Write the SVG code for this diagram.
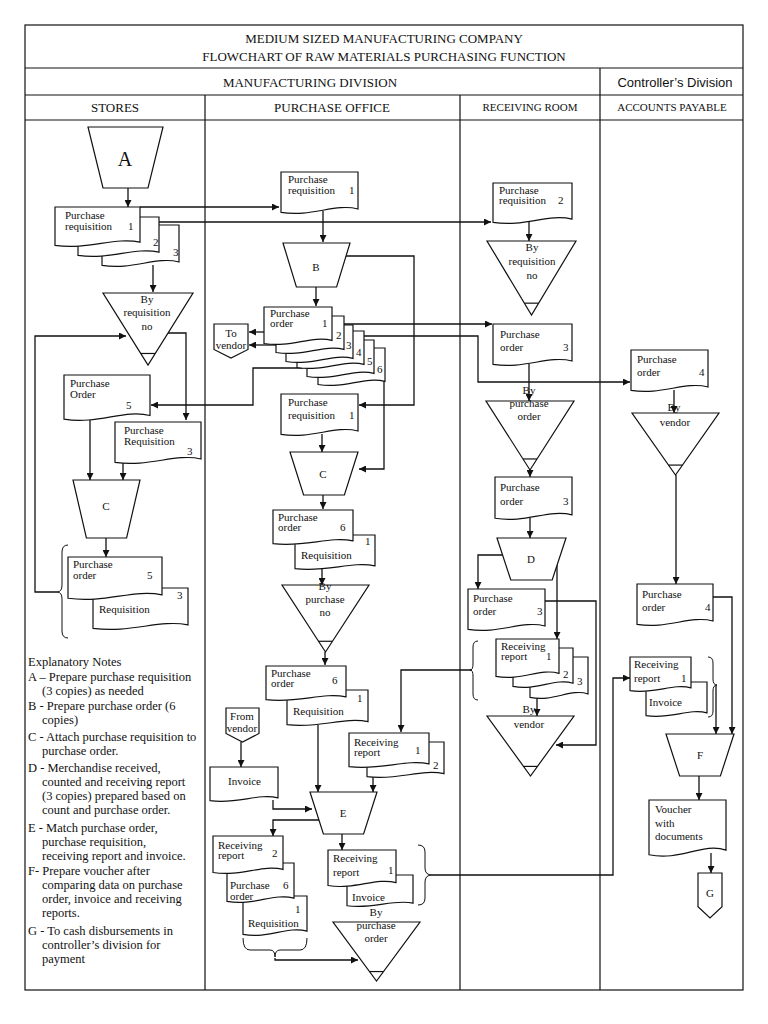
<svg xmlns="http://www.w3.org/2000/svg" xmlns:xlink="http://www.w3.org/1999/xlink" width="768" height="1024" viewBox="0 0 768 1024">
<style>
text{font-family:"Liberation Serif","Times New Roman",serif;font-size:11px;fill:#111}
.h{font-size:13px;text-anchor:middle}
.hs{font-size:11px;text-anchor:middle}
.c{text-anchor:middle}
.big{font-size:20px;text-anchor:middle}
.n{font-size:12.5px}
.s{fill:#fff;stroke:#111;stroke-width:1.2;vector-effect:non-scaling-stroke}
.grid{fill:none;stroke:#111;stroke-width:1.2}
.cn path{fill:none;stroke:#111;stroke-width:1.3}
.br{fill:none;stroke:#111;stroke-width:1}
</style>
<defs>
<path id="doc" class="s" d="M0,0 H1 V0.88 C0.7,0.74 0.4,1.08 0,0.96 Z"/>
<path id="trap" class="s" d="M0,0 H1 L0.8,1 H0.2 Z"/>
<g id="tri"><path class="s" d="M0,0 H1 L0.5,1 Z"/><path class="s" d="M0.42,0.84 H0.58"/></g>
<path id="pent" class="s" d="M0,0 H1 V0.75 L0.5,1 L0,0.75 Z"/>
<marker id="ar" viewBox="0 0 10 10" refX="10" refY="5" markerWidth="7" markerHeight="7" orient="auto" markerUnits="userSpaceOnUse"><path d="M0,0 L10,5 L0,10 Z" fill="#111"/></marker>
</defs>
<rect width="768" height="1024" fill="#fff"/>
<g id="frame" class="grid">
<rect x="25" y="25" width="718" height="965"/>
<path d="M25,68 H743 M25,95 H743 M25,120 H743 M600,68 V990 M205,95 V990 M460,95 V990"/>
</g>
<g id="headers">
<text class="h" x="384" y="43">MEDIUM SIZED MANUFACTURING COMPANY</text>
<text class="h" x="384" y="61">FLOWCHART OF RAW MATERIALS PURCHASING FUNCTION</text>
<text class="h" x="310" y="87">MANUFACTURING DIVISION</text>
<text class="h" x="675" y="87" style="font-family:'Liberation Sans',Arial,sans-serif">Controller’s Division</text>
<text class="h" x="115" y="112">STORES</text>
<text class="h" x="332" y="112">PURCHASE OFFICE</text>
<text class="hs" x="530" y="111">RECEIVING ROOM</text>
<text class="hs" x="672" y="111">ACCOUNTS PAYABLE</text>
</g>
<g class="cn" id="connectors">
<path d="M128,188 V207" marker-end="url(#ar)"/>
<path d="M140,207 H279" marker-end="url(#ar)"/>
<path d="M159,222 H491" marker-end="url(#ar)"/>
<path d="M153,265 V292" marker-end="url(#ar)"/>
<path d="M57,592 H35 V336 H126" marker-end="url(#ar)"/>
<path d="M168,333 H186 V420" marker-end="url(#ar)"/>
<path d="M303,368 H253 V405 H151" marker-end="url(#ar)"/>
<path d="M90,420 V480" marker-end="url(#ar)"/>
<path d="M123,462 V480" marker-end="url(#ar)"/>
<path d="M106,538 V557" marker-end="url(#ar)"/>
<path d="M323,211 V242" marker-end="url(#ar)"/>
<path d="M345,256 H414 V405 H359" marker-end="url(#ar)"/>
<path d="M316,287 V306" marker-end="url(#ar)"/>
<path d="M264,332 H249" marker-end="url(#ar)"/>
<path d="M277,345 H249" marker-end="url(#ar)"/>
<path d="M332,324 H492" marker-end="url(#ar)"/>
<path d="M353,336 H478 V382 H630" marker-end="url(#ar)"/>
<path d="M384,349 V469 H359" marker-end="url(#ar)"/>
<path d="M322,434 V452" marker-end="url(#ar)"/>
<path d="M323,495 V509" marker-end="url(#ar)"/>
<path d="M322,568 V585" marker-end="url(#ar)"/>
<path d="M325,652 V665" marker-end="url(#ar)"/>
<path d="M241,742 V767" marker-end="url(#ar)"/>
<path d="M273,800 V809 H312" marker-end="url(#ar)"/>
<path d="M318,725 V792" marker-end="url(#ar)"/>
<path d="M472,670 H401 V732" marker-end="url(#ar)"/>
<path d="M373,776 V792" marker-end="url(#ar)"/>
<path d="M320,820 H273 V836" marker-end="url(#ar)"/>
<path d="M342,834 V850" marker-end="url(#ar)"/>
<path d="M275,958 V960 H358" marker-end="url(#ar)"/>
<path d="M432,875 H613 V678 H630" marker-end="url(#ar)"/>
<path d="M529,221 V241" marker-end="url(#ar)"/>
<path d="M529,364 V401" marker-end="url(#ar)"/>
<path d="M530,468 V477" marker-end="url(#ar)"/>
<path d="M530,518 V538" marker-end="url(#ar)"/>
<path d="M503,555 H478 V589" marker-end="url(#ar)"/>
<path d="M557,556 V639" marker-end="url(#ar)"/>
<path d="M545,601 H596 V745 H556" marker-end="url(#ar)"/>
<path d="M537,698 V716" marker-end="url(#ar)"/>
<path d="M674,390 V413" marker-end="url(#ar)"/>
<path d="M676,475 V584" marker-end="url(#ar)"/>
<path d="M713,597 H732 V734" marker-end="url(#ar)"/>
<path d="M716,685 V734" marker-end="url(#ar)"/>
<path d="M699,776 V800" marker-end="url(#ar)"/>
<path d="M711,853 V873" marker-end="url(#ar)"/>
</g>
<g id="braces" class="br">
<path d="M68,545 Q62,545 62,552 V585 Q62,592 57,592 Q62,592 62,599 V631 Q62,638 68,638"/>
<path d="M478,641 Q473,641 473,647 V664 Q473,670 470,670 Q473,670 473,676 V694 Q473,700 478,700"/>
<path d="M418,845 Q425,845 425,852 V868 Q425,875 432,875 Q425,875 425,882 V898 Q425,905 418,905"/>
<path d="M708,657 Q713,657 713,663 V679 Q713,685 717,685 Q713,685 713,691 V711 Q713,717 708,717"/>
<path d="M243,938 Q243,950 250,950 H270 Q275,950 275,957 Q275,950 280,950 H300 Q307,950 307,938"/>
</g>
<g id="nA"><use href="#trap" transform="translate(88,127) scale(75,61)"/><text class="big" x="125" y="166">A</text></g>
<g id="nPR123">
<use href="#doc" transform="translate(102,225) scale(77,42)"/>
<use href="#doc" transform="translate(78,217) scale(81,40)"/>
<use href="#doc" transform="translate(55,207) scale(85,40)"/>
<text x="65" y="219">Purchase</text><text x="65" y="230">requisition</text><text x="128" y="230">1</text>
<text x="153" y="246">2</text><text x="173" y="256">3</text>
</g>
<g id="nFileReq"><use href="#tri" transform="translate(103,293) scale(90,72)"/>
<text class="c" x="147" y="303">By</text><text class="c" x="147" y="316">requisition</text><text class="c" x="147" y="330">no</text></g>
<g id="nPO5"><use href="#doc" transform="translate(64,375) scale(86,46)"/>
<text x="70" y="387">Purchase</text><text x="70" y="398">Order</text><text x="126" y="409">5</text></g>
<g id="nPR3"><use href="#doc" transform="translate(115,422) scale(86,42)"/>
<text x="124" y="434">Purchase</text><text x="124" y="445">Requisition</text><text x="187" y="455">3</text></g>
<g id="nC1"><use href="#trap" transform="translate(73,480) scale(67,58)"/><text class="c" x="106" y="510">C</text></g>
<g id="nPO5R3">
<use href="#doc" transform="translate(93,588) scale(95,42)"/>
<use href="#doc" transform="translate(68,557) scale(94,43)"/>
<text x="73" y="568">Purchase</text><text x="73" y="579">order</text><text x="147" y="579">5</text>
<text x="177" y="599">3</text><text x="99" y="613">Requisition</text>
</g>
<g id="notes" class="n">
<text class="n" x="28" y="666">Explanatory Notes</text>
<text class="n" x="28" y="681">A – Prepare purchase requisition</text>
<text class="n" x="42" y="695">(3 copies) as needed</text>
<text class="n" x="28" y="710">B - Prepare purchase order (6</text>
<text class="n" x="42" y="724">copies)</text>
<text class="n" x="28" y="741">C - Attach purchase requisition to</text>
<text class="n" x="42" y="755">purchase order.</text>
<text class="n" x="28" y="772">D - Merchandise received,</text>
<text class="n" x="42" y="786">counted and receiving report</text>
<text class="n" x="42" y="800">(3 copies) prepared based on</text>
<text class="n" x="42" y="814">count and purchase order.</text>
<text class="n" x="28" y="832">E - Match purchase order,</text>
<text class="n" x="42" y="846">purchase requisition,</text>
<text class="n" x="42" y="860">receiving report and invoice.</text>
<text class="n" x="28" y="875">F- Prepare voucher after</text>
<text class="n" x="42" y="889">comparing data on purchase</text>
<text class="n" x="42" y="903">order, invoice and receiving</text>
<text class="n" x="42" y="917">reports.</text>
<text class="n" x="28" y="935">G - To cash disbursements in</text>
<text class="n" x="42" y="949">controller’s division for</text>
<text class="n" x="42" y="963">payment</text>
</g>
<g id="nPR1a"><use href="#doc" transform="translate(281,172) scale(77,42)"/>
<text x="288" y="183">Purchase</text><text x="288" y="194">requisition</text><text x="349" y="194">1</text></g>
<g id="nB"><use href="#trap" transform="translate(283,243) scale(67,44)"/><text class="c" x="316" y="271">B</text></g>
<g id="nPO16">
<use href="#doc" transform="translate(318,348) scale(67,38)"/>
<use href="#doc" transform="translate(307,340) scale(67,38)"/>
<use href="#doc" transform="translate(297,331) scale(67,38)"/>
<use href="#doc" transform="translate(286,325) scale(67,38)"/>
<use href="#doc" transform="translate(276,316) scale(68,38)"/>
<use href="#doc" transform="translate(264,307) scale(68,38)"/>
<text x="270" y="317">Purchase</text><text x="270" y="327">order</text><text x="322" y="327">1</text>
<text x="336" y="339">2</text><text x="346" y="349">3</text><text x="356" y="356">4</text><text x="367" y="365">5</text><text x="377" y="373">6</text>
</g>
<g id="nToVendor"><use href="#pent" transform="translate(214,324) scale(34,34)"/>
<text class="c" x="231" y="337">To</text><text class="c" x="231" y="349">vendor</text></g>
<g id="nPR1b"><use href="#doc" transform="translate(281,394) scale(77,42)"/>
<text x="288" y="406">Purchase</text><text x="288" y="419">requisition</text><text x="349" y="419">1</text></g>
<g id="nC2"><use href="#trap" transform="translate(290,452) scale(68,43)"/><text class="c" x="323" y="478">C</text></g>
<g id="nPO6R1a">
<use href="#doc" transform="translate(295,535) scale(80,35)"/>
<use href="#doc" transform="translate(273,510) scale(80,35)"/>
<text x="278" y="521">Purchase</text><text x="278" y="531">order</text><text x="340" y="531">6</text>
<text x="365" y="545">1</text><text x="301" y="559">Requisition</text>
</g>
<g id="nFilePurchNo"><use href="#tri" transform="translate(282,585) scale(87,67)"/>
<text class="c" x="325" y="590">By</text><text class="c" x="325" y="603">purchase</text><text class="c" x="325" y="616">no</text></g>
<g id="nPO6R1b">
<use href="#doc" transform="translate(287,690) scale(81,36)"/>
<use href="#doc" transform="translate(266,666) scale(80,35)"/>
<text x="271" y="677">Purchase</text><text x="271" y="687">order</text><text x="332" y="684">6</text>
<text x="357" y="702">1</text><text x="293" y="715">Requisition</text>
</g>
<g id="nFromVendor"><use href="#pent" transform="translate(226,708) scale(33,34)"/>
<text class="c" x="242" y="720">From</text><text class="c" x="242" y="732">vendor</text></g>
<g id="nInvoice"><use href="#doc" transform="translate(210,767) scale(68,35)"/><text x="228" y="785">Invoice</text></g>
<g id="nRR12">
<use href="#doc" transform="translate(367,742) scale(77,36)"/>
<use href="#doc" transform="translate(349,733) scale(80,35)"/>
<text x="354" y="746">Receiving</text><text x="354" y="756">report</text><text x="415" y="754">1</text><text x="433" y="769">2</text>
</g>
<g id="nE"><use href="#trap" transform="translate(310,792) scale(67,42)"/><text class="c" x="343" y="817">E</text></g>
<g id="nRR2PO6R1">
<use href="#doc" transform="translate(243,896) scale(64,40)"/>
<use href="#doc" transform="translate(227,863) scale(67,40)"/>
<use href="#doc" transform="translate(213,836) scale(70,38)"/>
<text x="218" y="849">Receiving</text><text x="218" y="859">report</text><text x="272" y="857">2</text>
<text x="230" y="889">Purchase</text><text x="283" y="889">6</text><text x="230" y="900">order</text>
<text x="295" y="913">1</text><text x="248" y="927">Requisition</text>
</g>
<g id="nRR1Inv">
<use href="#doc" transform="translate(347,875) scale(66,32)"/>
<use href="#doc" transform="translate(328,850) scale(68,37)"/>
<text x="333" y="862">Receiving</text><text x="333" y="876">report</text><text x="388" y="874">1</text><text x="352" y="901">Invoice</text>
</g>
<g id="nFilePO"><use href="#tri" transform="translate(333,922) scale(87,59)"/>
<text class="c" x="376" y="916">By</text><text class="c" x="376" y="929">purchase</text><text class="c" x="376" y="942">order</text></g>
<g id="nPR2"><use href="#doc" transform="translate(493,183) scale(79,41)"/>
<text x="499" y="194">Purchase</text><text x="499" y="204">requisition</text><text x="558" y="204">2</text></g>
<g id="nFileReq2"><use href="#tri" transform="translate(487,241) scale(89,74)"/>
<text class="c" x="532" y="251">By</text><text class="c" x="532" y="265">requisition</text><text class="c" x="532" y="279">no</text></g>
<g id="nPO3a"><use href="#doc" transform="translate(493,324) scale(79,42)"/>
<text x="500" y="338">Purchase</text><text x="500" y="351">order</text><text x="563" y="351">3</text></g>
<g id="nFilePO3"><use href="#tri" transform="translate(486,401) scale(88,69)"/>
<text class="c" x="529" y="394">By</text><text class="c" x="529" y="407">purchase</text><text class="c" x="529" y="420">order</text></g>
<g id="nPO3b"><use href="#doc" transform="translate(495,477) scale(77,43)"/>
<text x="500" y="491">Purchase</text><text x="500" y="505">order</text><text x="563" y="505">3</text></g>
<g id="nD"><use href="#trap" transform="translate(497,538) scale(69,42)"/><text class="c" x="531" y="563">D</text></g>
<g id="nPO3c"><use href="#doc" transform="translate(468,589) scale(77,42)"/>
<text x="473" y="602">Purchase</text><text x="473" y="615">order</text><text x="537" y="615">3</text></g>
<g id="nRR123">
<use href="#doc" transform="translate(530,657) scale(58,42)"/>
<use href="#doc" transform="translate(513,648) scale(60,40)"/>
<use href="#doc" transform="translate(496,639) scale(63,39)"/>
<text x="501" y="650">Receiving</text><text x="501" y="660">report</text><text x="546" y="660">1</text>
<text x="563" y="678">2</text><text x="577" y="685">3</text>
</g>
<g id="nFileVendor"><use href="#tri" transform="translate(487,716) scale(87,60)"/>
<text class="c" x="529" y="713">By</text><text class="c" x="529" y="728">vendor</text></g>
<g id="nPO4a"><use href="#doc" transform="translate(631,350) scale(77,42)"/>
<text x="637" y="363">Purchase</text><text x="637" y="376">order</text><text x="699" y="376">4</text></g>
<g id="nFileVendor2"><use href="#tri" transform="translate(632,413) scale(87,62)"/>
<text class="c" x="674" y="411">By</text><text class="c" x="675" y="426">vendor</text></g>
<g id="nPO4b"><use href="#doc" transform="translate(637,584) scale(76,42)"/>
<text x="642" y="598">Purchase</text><text x="642" y="611">order</text><text x="705" y="611">4</text></g>
<g id="nRR1InvAP">
<use href="#doc" transform="translate(646,682) scale(61,35)"/>
<use href="#doc" transform="translate(630,657) scale(61,35)"/>
<text x="634" y="668">Receiving</text><text x="634" y="682">report</text><text x="681" y="682">1</text><text x="649" y="706">Invoice</text>
</g>
<g id="nF"><use href="#trap" transform="translate(666,734) scale(68,42)"/><text class="c" x="700" y="759">F</text></g>
<g id="nVoucher"><use href="#doc" transform="translate(649,800) scale(77,57)"/>
<text x="655" y="813">Voucher</text><text x="655" y="827">with</text><text x="655" y="840">documents</text></g>
<g id="nG"><use href="#pent" transform="translate(698,873) scale(24,45)"/><text class="c" x="710" y="897">G</text></g>
</svg>
